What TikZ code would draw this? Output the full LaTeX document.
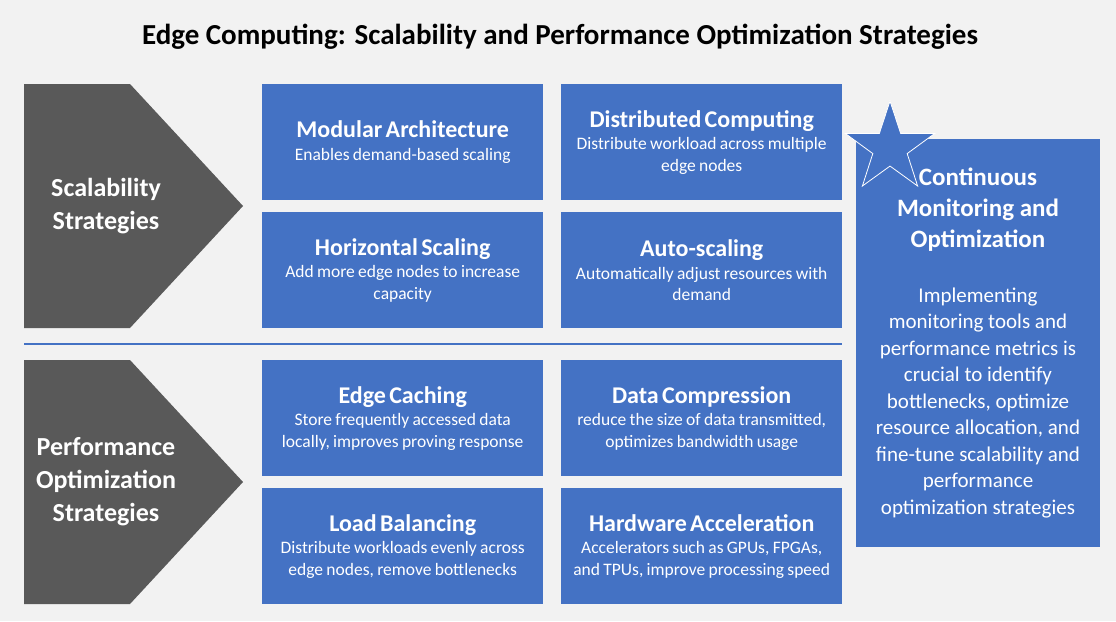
\documentclass[tikz,border=0pt]{standalone}
\usepackage{fontspec}
\setmainfont{Carlito}
\usetikzlibrary{shapes.geometric}
\definecolor{bgray}{HTML}{F2F2F2}
\definecolor{dgray}{HTML}{595959}
\definecolor{cblue}{HTML}{4472C4}
\tikzset{
  card/.style={fill=cblue, minimum width=281pt, minimum height=116pt, anchor=north west, inner sep=0pt, text=white, text width=275pt, align=center},
  chev/.style={fill=dgray}
}
\newcommand{\cardtext}[2]{{\fontsize{24}{27}\selectfont\bfseries #1\par}\vspace{1pt}{\fontsize{17.5}{21.5}\selectfont #2\par}}
\begin{document}
\begin{tikzpicture}[x=1pt,y=-1pt]
\fill[bgray] (0,0) rectangle (1116,621);
\useasboundingbox (0,0) rectangle (1116,621);
\node[font=\bfseries\fontsize{29}{34}\selectfont] (title) at (560,37) {Edge Computing: Scalability and Performance Optimization Strategies};
% chevrons
\fill[chev] (24,84) -- (130,84) -- (243,206) -- (130,328) -- (24,328) -- cycle;
\fill[chev] (24,360) -- (130,360) -- (243,482) -- (130,604) -- (24,604) -- cycle;
\node[text=white, align=center, font=\bfseries\fontsize{26}{33}\selectfont] (scal) at (106,206) {Scalability\\Strategies};
\node[text=white, align=center, font=\bfseries\fontsize{26}{33}\selectfont] (perf) at (106,482) {Performance\\Optimization\\Strategies};
% cards
\node[card] (mod) at (262,84) {\cardtext{Modular Architecture}{Enables demand-based scaling}};
\node[card] (dist) at (561,84) {\cardtext{Distributed Computing}{Distribute workload across multiple\\edge nodes}};
\node[card] (hor) at (262,212) {\cardtext{Horizontal Scaling}{Add more edge nodes to increase\\capacity}};
\node[card] (auto) at (561,212) {\cardtext{Auto-scaling}{Automatically adjust resources with\\demand}};
\node[card] (cache) at (262,360) {\cardtext{Edge Caching}{Store frequently accessed data\\locally, improves proving response}};
\node[card] (comp) at (561,360) {\cardtext{Data Compression}{reduce the size of data transmitted,\\optimizes bandwidth usage}};
\node[card] (load) at (262,488) {\cardtext{Load Balancing}{Distribute workloads evenly across\\edge nodes, remove bottlenecks}};
\node[card] (hw) at (561,488) {\cardtext{Hardware Acceleration}{Accelerators such as GPUs, FPGAs,\\and TPUs, improve processing speed}};
\draw[cblue, line width=1.5pt] (24,344) -- (842,344);
% right panel
\fill[cblue] (856,139) rectangle (1100,547);
\node[star, star points=5, star point ratio=2.6, minimum size=94pt, fill=cblue, draw=white, line width=0.8pt, inner sep=0pt] (st) at (890,148) {};
\node[text=white, align=center, font=\bfseries\fontsize{25}{31}\selectfont] (cont) at (978,210) {Continuous\\Monitoring and\\Optimization};
\node[text=white, align=center, font=\fontsize{21}{26.5}\selectfont] (desc) at (978,403) {Implementing\\monitoring tools and\\performance metrics is\\crucial to identify\\bottlenecks, optimize\\resource allocation, and\\fine-tune scalability and\\performance\\optimization strategies};
\end{tikzpicture}
\end{document}
